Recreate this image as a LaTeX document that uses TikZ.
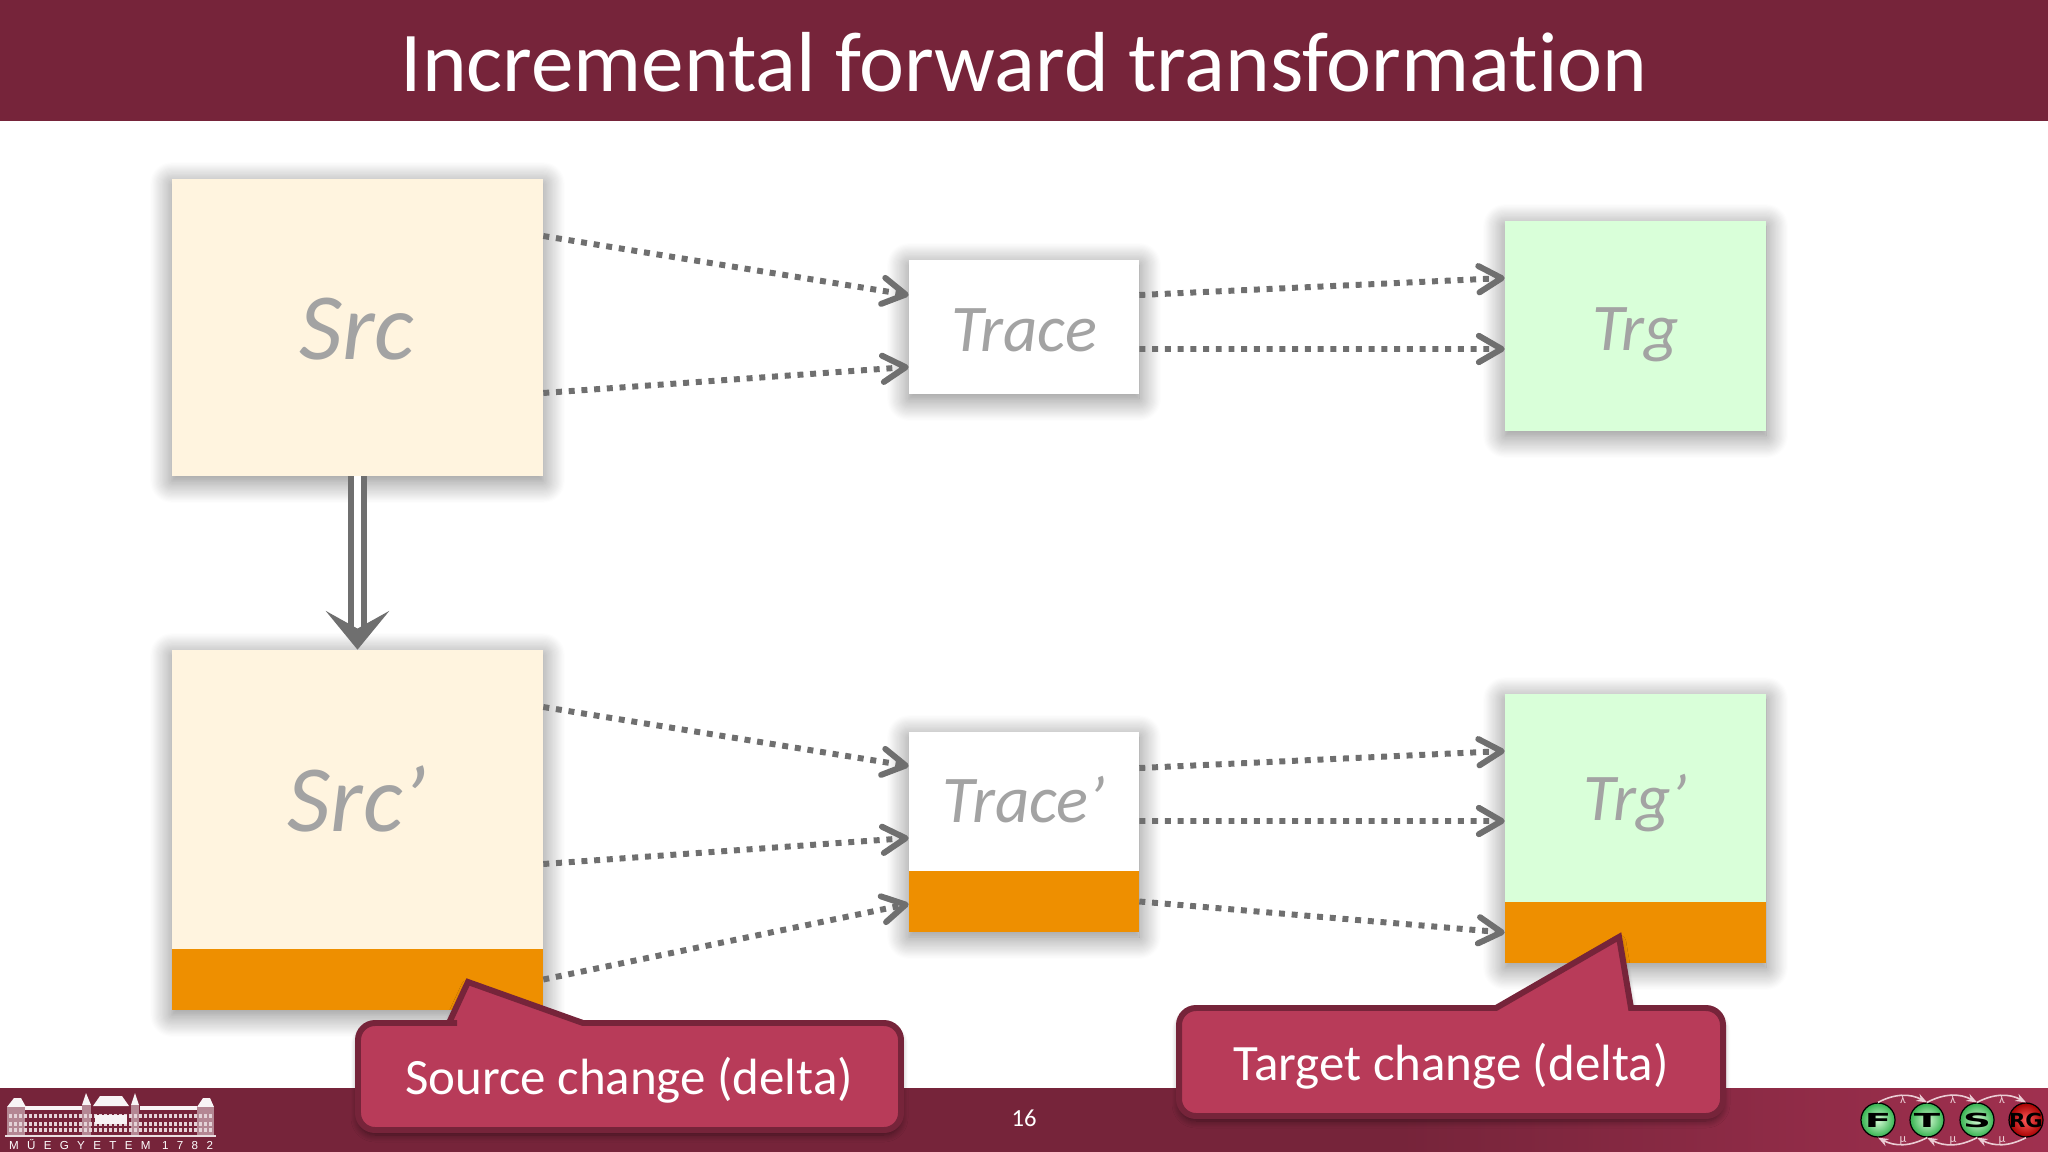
\documentclass[tikz,border=0pt]{standalone}
\usepackage{fontspec}
\usepackage{graphicx}
\setmainfont[Ligatures=NoCommon]{Carlito}
\newfontfamily\logofont[LetterSpace=72]{Liberation Sans}
\newfontfamily\ballfont{DejaVu Sans}
\usetikzlibrary{arrows.meta,shadows.blur}
\definecolor{barred}{HTML}{76243A}
\definecolor{barlight}{HTML}{A0304F}
\definecolor{calloutred}{HTML}{B83B59}
\definecolor{creamfill}{HTML}{FFF4DF}
\definecolor{greenfill}{HTML}{D9FFD9}
\definecolor{deltaorange}{HTML}{EE8F00}
\definecolor{linkgray}{HTML}{6F6F6F}
\definecolor{labelgray}{HTML}{A3A3A3}
\definecolor{arcpink}{HTML}{EBCDD4}
\definecolor{ballgreen}{HTML}{35B24F}
\definecolor{ballpale}{HTML}{D5FBD5}
\tikzset{
  model/.style={rectangle, inner sep=0pt, blur shadow={shadow xshift=0cm, shadow yshift=-0.1cm, shadow blur radius=0.44cm, shadow blur steps=20, shadow opacity=50}},
  srcbox/.style={model, fill=creamfill, minimum width=7.42cm},
  tracebox/.style={model, fill=white, minimum width=4.6cm},
  trgbox/.style={model, fill=greenfill, minimum width=5.22cm},
  delta/.style={rectangle, inner sep=0pt, fill=deltaorange},
  bigname/.style={text=labelgray, anchor=base, font=\fontsize{54pt}{54pt}\selectfont\itshape},
  smallname/.style={text=labelgray, anchor=base, font=\fontsize{38pt}{38pt}\selectfont\itshape},
  link/.style={draw=linkgray, line width=3.4pt, dash pattern=on 3.4pt off 3.85pt, -{Straight Barb[length=13pt, width=15pt, line width=3.4pt, round]}},
  callout/.style={draw=barred, fill=calloutred, line width=3.4pt, rounded corners=0.34cm, blur shadow={shadow xshift=0cm, shadow yshift=-0.1cm, shadow blur radius=0.14cm, shadow blur steps=8, shadow opacity=45}},
  callouttext/.style={text=white, anchor=base, font=\fontsize{29pt}{29pt}\selectfont},
  ball/.style={circle, draw=black, line width=0.7pt, minimum size=0.68cm, inner sep=0pt},
  greenball/.style={ball, inner color=ballpale, outer color=ballgreen},
  redball/.style={ball, inner color=red!65!white, outer color=red!65!black},
  balltext/.style={text=black, font=\ballfont\bfseries\fontsize{11pt}{11pt}\selectfont},
  arc/.style={draw=arcpink, line width=0.9pt, -{Stealth[length=6pt, width=4.5pt]}},
  arclabel/.style={text=arcpink, font=\fontsize{7pt}{7pt}\selectfont},
}
\begin{document}
\begin{tikzpicture}[x=0.02cm, y=-0.02cm]
\useasboundingbox (0,0) rectangle (2048,1152);

% Title and footer bars
\fill[barred] (0,0) rectangle (2048,121);
\node[text=white, font=\fontsize{48.5pt}{48.5pt}\selectfont] (title) at (1024,62) {Incremental forward transformation};
\shade[left color=barred, middle color=barred!85!barlight, right color=barlight] (1400,1088) rectangle (2048,1152);
\fill[barred] (0,1088) rectangle (1400,1152);
\node[text=white, font=\fontsize{14pt}{14pt}\selectfont] (page) at (1024,1118) {16};

% Old models
\node[srcbox, minimum height=5.94cm] (src) at (357.5,327.5) {};
\node[bigname] (srcname) at (357,359) {Src};
\node[tracebox, minimum height=2.68cm] (trace) at (1024,327) {};
\node[smallname] (tracename) at (1024,351) {Trace};
\node[trgbox, minimum height=4.2cm] (trg) at (1635.5,326) {};
\node[smallname] (trgname) at (1635.5,350) {Trg};

% New models
\node[srcbox, minimum height=7.2cm] (srcn) at (357.5,830) {};
\node[delta, minimum width=7.42cm, minimum height=1.22cm] (srcdelta) at (357.5,979.5) {};
\node[bigname] (srcnname) at (357,831) {Src’};
\node[tracebox, minimum height=4cm] (tracen) at (1024,832) {};
\node[delta, minimum width=4.6cm, minimum height=1.22cm] (tracedelta) at (1024,901.5) {};
\node[smallname] (tracenname) at (1024,822) {Trace’};
\node[trgbox, minimum height=5.38cm] (trgn) at (1635.5,828.5) {};
\node[delta, minimum width=5.22cm, minimum height=1.22cm] (trgdelta) at (1635.5,932.5) {};
\node[smallname] (trgnname) at (1635.5,820) {Trg’};

% Links
\draw[link] ([yshift=1.83cm]src.east) -- ([yshift=0.64cm]trace.west);
\draw[link] ([yshift=-1.31cm]src.east) -- ([yshift=-0.80cm]trace.west);
\draw[link] ([yshift=0.64cm]trace.east) -- ([yshift=0.96cm]trg.west);
\draw[link] ([yshift=-0.44cm]trace.east) -- ([yshift=-0.46cm]trg.west);
\draw[link] ([yshift=2.46cm]srcn.east) -- ([yshift=1.32cm]tracen.west);
\draw[link] ([yshift=-0.68cm]srcn.east) -- ([yshift=-0.12cm]tracen.west);
\draw[link] (srcdelta.east) -- ([yshift=-1.44cm]tracen.west);
\draw[link] ([yshift=1.28cm]tracen.east) -- ([yshift=1.55cm]trgn.west);
\draw[link] ([yshift=0.22cm]tracen.east) -- ([yshift=0.15cm]trgn.west);
\draw[link] (tracedelta.east) -- (trgdelta.west);

% Change arrow
\draw[draw=linkgray, line width=3.4pt, double=white, double distance=3.9pt, -{Stealth[length=22pt, width=36pt, inset=10pt]}] (src.south) -- (srcn.north);

% Callouts
\path[callout]
  (700,1023) -- (901,1023) -- (901,1130) -- (358,1130) -- (358,1023) -- (440,1023) [sharp corners] -- (449,1023) -- (468,982) -- (583,1023) -- cycle;
\node[callouttext] (srcnote) at (629,1094) {Source change (delta)};
\path[callout]
  (1700,1008) -- (1723,1008) -- (1723,1116) -- (1179,1116) -- (1179,1008) -- (1480,1008) [sharp corners] -- (1496,1008) -- (1619,937) -- (1631,1008) -- cycle;
\node[callouttext] (trgnote) at (1451,1080) {Target change (delta)};

% University logo
\fill[white!85!barred] (5,1135) rectangle (216,1136.5);
\fill[white!95!barred] (25,1106) rectangle (82,1110);
\fill[white!95!barred] (140,1106) rectangle (197,1110);
\fill[white!95!barred] (7,1107) -- (14,1098) -- (21,1098) -- (26,1107) -- cycle;
\fill[white!95!barred] (197,1107) -- (203,1098) -- (210,1098) -- (214,1107) -- cycle;
\fill[white!95!barred] (93,1106) -- (100,1096) -- (122,1096) -- (129,1106) -- cycle;
\fill[white!95!barred] (82,1105) -- (86,1093) -- (91,1105) -- cycle;
\fill[white!95!barred] (131,1105) -- (135,1093) -- (139,1105) -- cycle;
\fill[white!45!barred] (7,1107) rectangle (25,1135);
\fill[white!45!barred] (82,1105) rectangle (91,1135);
\fill[white!45!barred] (131,1105) rectangle (139,1135);
\fill[white!45!barred] (197,1107) rectangle (214,1135);
\foreach \xa in {9,14,...,212}
  \foreach \ya in {1114,1122,1128}
    \fill[white!80!barred] (\xa,\ya) rectangle +(2.8,4);
\fill[white!95!barred] (95,1115) rectangle (127,1124);
\node[text=white, font=\logofont\fontsize{6.6pt}{6.6pt}\selectfont, anchor=base] (logotext) at (111,1149) {MŰEGYETEM 1782};

% Research group logo
\node[greenball] (fball) at (1878,1120) {};
\node[greenball] (tball) at (1927,1120) {};
\node[greenball] (sball) at (1977,1120) {};
\node[redball] (rgball) at (2026,1120) {};
\node[balltext] (fname) at (fball) {\scalebox{2}[1]{F}};
\node[balltext] (tname) at (tball) {\scalebox{2}[1]{T}};
\node[balltext] (sname) at (sball) {\scalebox{2}[1]{S}};
\node[balltext] (rgname) at (rgball) {\scalebox{1.1}[1]{RG}};
\draw[arc] (fball.north) to[bend left=28] (tball.north);
\draw[arc] (tball.north) to[bend left=28] (sball.north);
\draw[arc] (sball.north) to[bend left=28] (rgball.north);
\draw[arc] (tball.south) to[bend left=28] (fball.south);
\draw[arc] (sball.south) to[bend left=28] (tball.south);
\draw[arc] (rgball.south) to[bend left=28] (sball.south);
\foreach \xa/\na in {1903/la, 1953/lb, 2002/lc} {
  \node[arclabel] (\na) at (\xa,1099) {λ};
  \node[arclabel] (\na m) at (\xa,1141) {μ};
}
\end{tikzpicture}
\end{document}
